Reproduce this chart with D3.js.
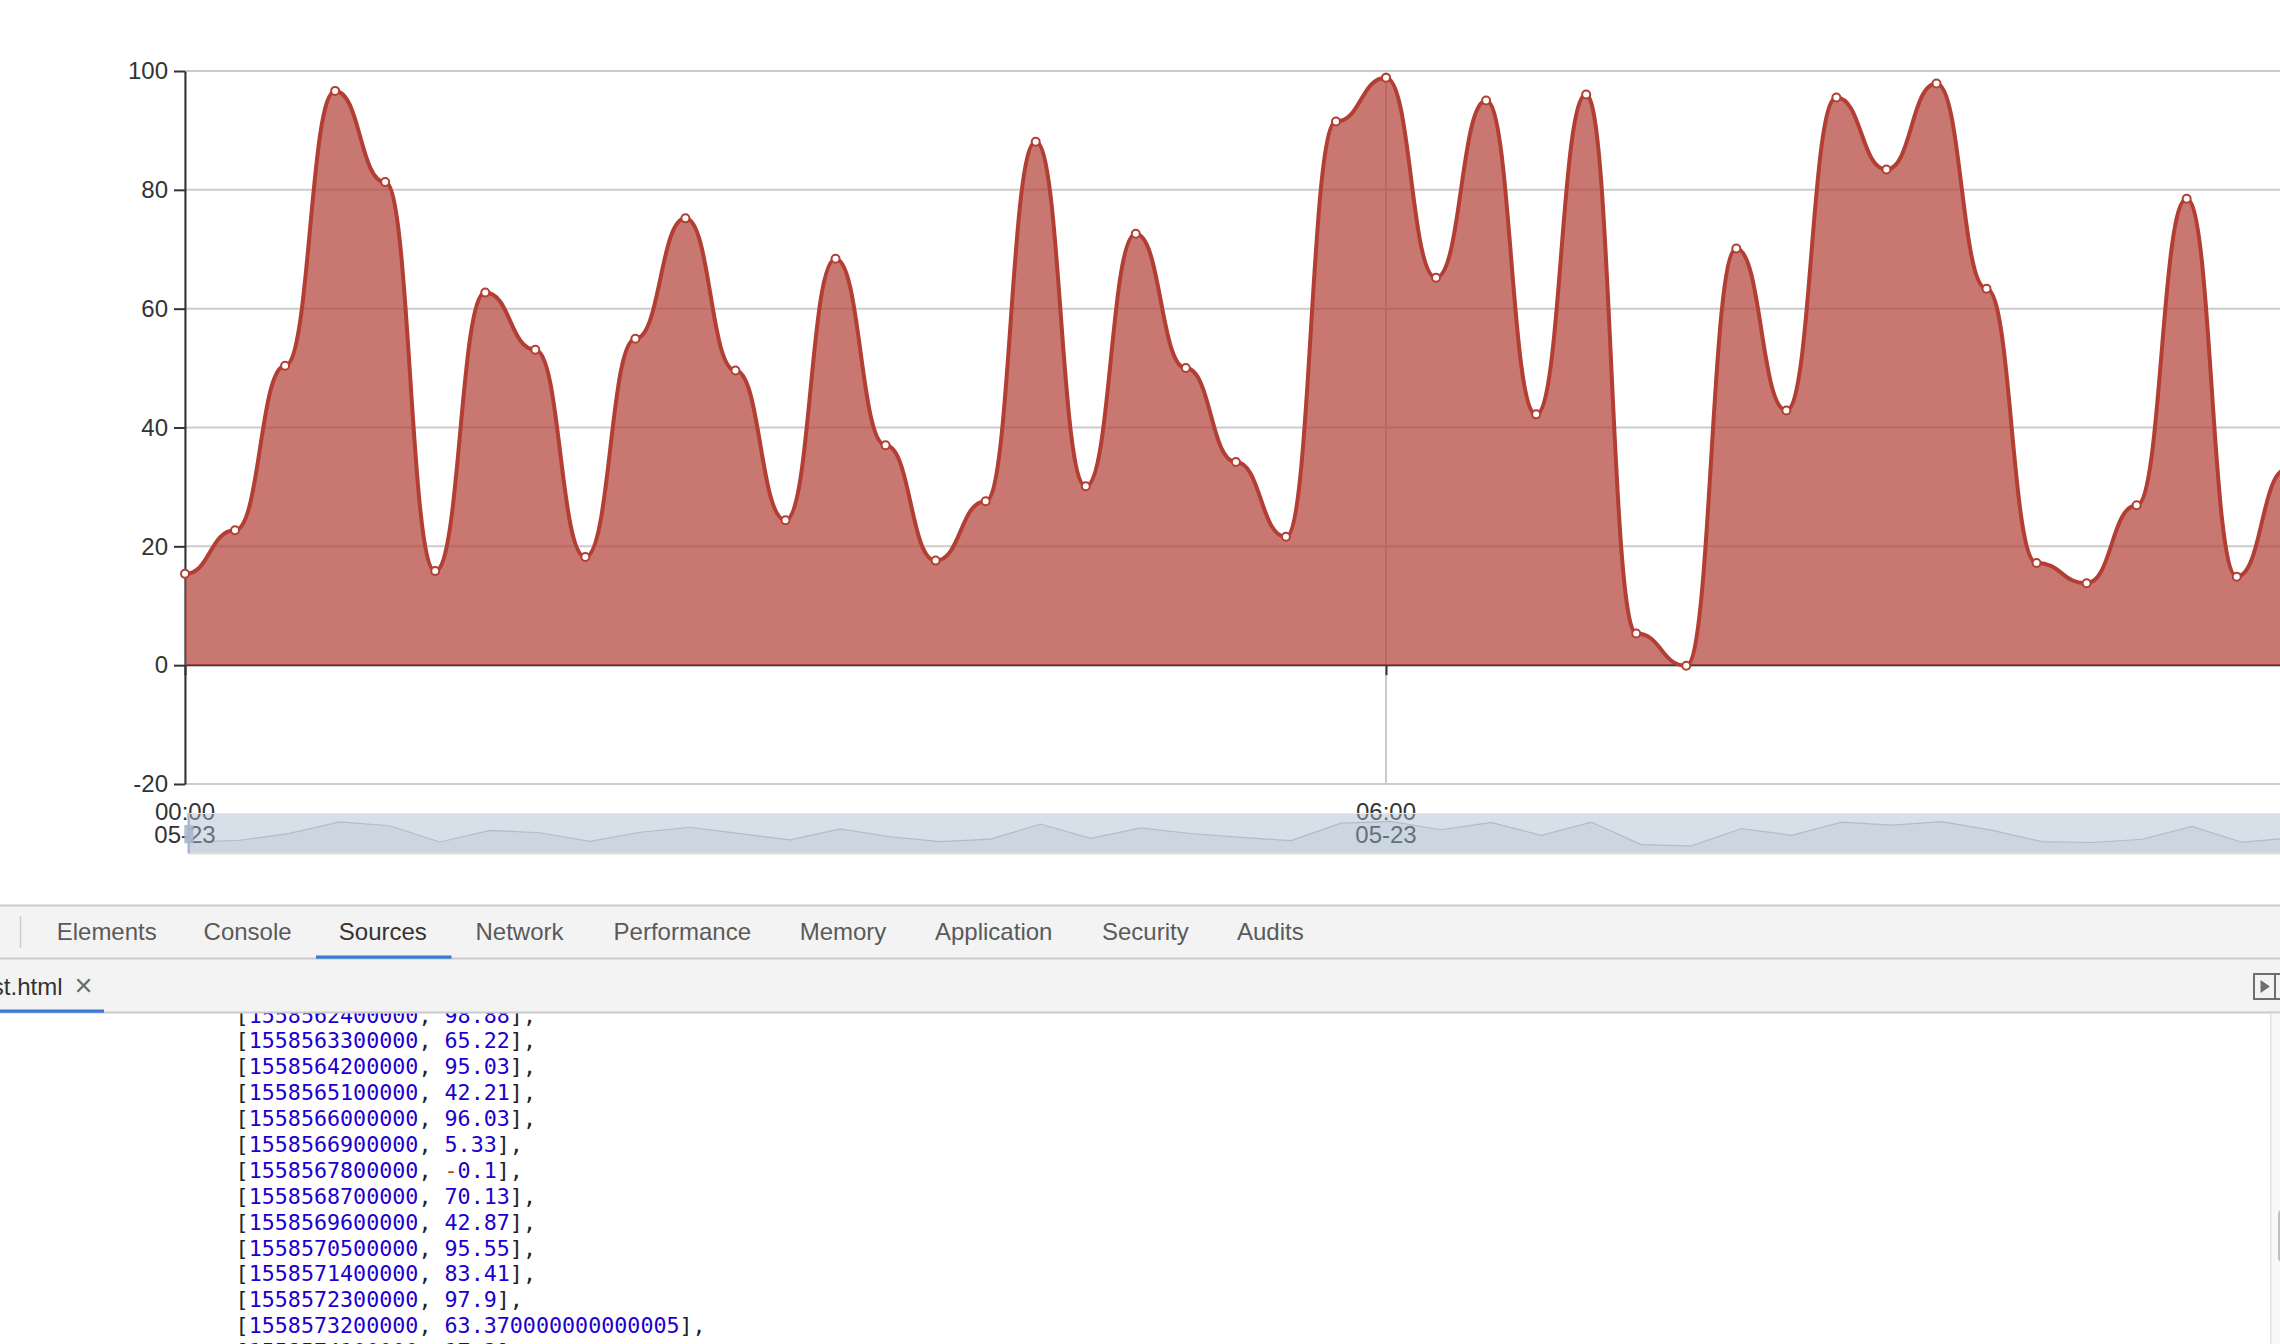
<!DOCTYPE html>
<html>
<head>
<meta charset="utf-8">
<script src="https://cdn.jsdelivr.net/npm/d3@7/dist/d3.min.js"></script>
<style>
html,body{margin:0;padding:0;background:#fff;overflow:hidden}
svg{display:block}
</style>
</head>
<body>
<svg id="c" width="2280" height="1344"></svg>
<script>
// ---------------- data ----------------
const times = [
  1558540800000, 1558541700000, 1558542600000, 1558543500000, 1558544400000,
  1558545300000, 1558546200000, 1558547100000, 1558548000000, 1558548900000,
  1558549800000, 1558550700000, 1558551600000, 1558552500000, 1558553400000,
  1558554300000, 1558555200000, 1558556100000, 1558557000000, 1558557900000,
  1558558800000, 1558559700000, 1558560600000, 1558561500000, 1558562400000,
  1558563300000, 1558564200000, 1558565100000, 1558566000000, 1558566900000,
  1558567800000, 1558568700000, 1558569600000, 1558570500000, 1558571400000,
  1558572300000, 1558573200000, 1558574100000, 1558575000000, 1558575900000,
  1558576800000, 1558577700000, 1558578600000
];
const values = [
  15.37, 22.7, 50.4, 96.65, 81.3,
  15.84, 62.7, 53.1, 18.2, 54.95,
  75.2, 49.6, 24.4, 68.4, 37.0,
  17.6, 27.6, 88.1, 30.1, 72.6,
  50.0, 34.2, 21.6, 91.5, 98.88,
  65.22, 95.03, 42.21, 96.03, 5.33,
  -0.1, 70.13, 42.87, 95.55, 83.41,
  97.9, 63.37, 17.2, 13.8, 26.9,
  78.5, 14.9, 33.0
];
const yTicks = [-20, 0, 20, 40, 60, 80, 100];
const xTickTimes = [1558540800000, 1558562400000];
const xTickLabels = [["00:00", "05-23"], ["06:00", "05-23"]];

const tabs = ["Elements", "Console", "Sources", "Network", "Performance", "Memory", "Application", "Security", "Audits"];
const activeTab = "Sources";
const fileTab = "st.html";
// source listing shown in the devtools panel (first line is cut by the panel edge)
const sourceTimes = times.slice(24, 38);
const sourceValues = ["98.88", "65.22", "95.03", "42.21", "96.03", "5.33", "-0.1", "70.13",
                      "42.87", "95.55", "83.41", "97.9", "63.370000000000005", "17.2"];

// ---------------- setup ----------------
const W = 2280, H = 1344;
const svg = d3.select("#c");
const FONT = "'Liberation Sans', Arial, Helvetica, sans-serif";
const MONO = "'DejaVu Sans Mono', 'Liberation Mono', monospace";
const LINE = "#b23e34";

const x = d3.scaleLinear().domain([xTickTimes[0], xTickTimes[1]]).range([185, 1386]);
const y = d3.scaleLinear().domain([-20, 100]).range([784, 71]);

svg.append("rect").attr("width", W).attr("height", H).attr("fill", "#fff");

// grid lines
const grid = svg.append("g");
grid.selectAll("line.h").data(yTicks).join("line")
  .attr("x1", x.range()[0]).attr("x2", W)
  .attr("y1", d => y(d)).attr("y2", d => y(d))
  .attr("stroke", "#cccccc").attr("stroke-width", 2);
grid.selectAll("line.v").data(xTickTimes).join("line")
  .attr("x1", d => x(d)).attr("x2", d => x(d))
  .attr("y1", y(100)).attr("y2", y(-20))
  .attr("stroke", "#cccccc").attr("stroke-width", 2);

// y axis
const yAxis = svg.append("g").attr("transform", `translate(${x.range()[0]},0)`)
  .call(d3.axisLeft(y).tickValues(yTicks).tickFormat(d => String(d))
        .tickSize(11).tickSizeOuter(0).tickPadding(6));
yAxis.select(".domain").attr("stroke", "#333").attr("stroke-width", 2);
yAxis.selectAll(".tick line").attr("stroke", "#333").attr("stroke-width", 2);
yAxis.selectAll(".tick text").attr("fill", "#333").style("font-family", FONT).style("font-size", "24px");

// x axis (on zero)
const xAxisG = svg.append("g").attr("transform", `translate(0,${y(0)})`)
  .call(d3.axisBottom(x).tickValues(xTickTimes).tickSize(10).tickFormat(""));
xAxisG.select(".domain").remove();
xAxisG.selectAll(".tick line").attr("stroke", "#333").attr("stroke-width", 2);
xAxisG.append("line").attr("x1", x.range()[0]).attr("x2", W).attr("y1", 0).attr("y2", 0)
  .attr("stroke", "#333").attr("stroke-width", 2);

// x labels
const xl = svg.append("g");
xTickTimes.forEach((t, i) => {
  xl.append("text").attr("x", x(t)).attr("y", 819.5).attr("text-anchor", "middle")
    .attr("fill", "#333").style("font-family", FONT).style("font-size", "24px").text(xTickLabels[i][0]);
  xl.append("text").attr("x", x(t)).attr("y", 842.5).attr("text-anchor", "middle")
    .attr("fill", "#333").style("font-family", FONT).style("font-size", "24px").text(xTickLabels[i][1]);
});

// smooth path with flat tangents at every point (control points at half the x step)
function smoothPath(pts, smooth, path) {
  path.moveTo(pts[0][0], pts[0][1]);
  for (let i = 1; i < pts.length; i++) {
    const a = pts[i - 1], b = pts[i];
    const dx = b[0] - a[0];
    path.bezierCurveTo(a[0] + dx * smooth, a[1], b[0] - dx * smooth, b[1], b[0], b[1]);
  }
  return path;
}

const pts = times.map((t, i) => [x(t), y(values[i])]);

// area
const areaP = smoothPath(pts, 0.5, d3.path());
areaP.lineTo(pts[pts.length - 1][0], y(0));
areaP.lineTo(pts[0][0], y(0));
areaP.closePath();
svg.append("path").attr("d", areaP.toString()).attr("fill", LINE).attr("fill-opacity", 0.7);

// line
svg.append("path").attr("d", smoothPath(pts, 0.5, d3.path()).toString())
  .attr("fill", "none").attr("stroke", LINE).attr("stroke-width", 4).attr("stroke-linejoin", "round");

// symbols
svg.append("g").selectAll("circle").data(pts).join("circle")
  .attr("cx", d => d[0]).attr("cy", d => d[1]).attr("r", 4)
  .attr("fill", "#fff").attr("stroke", LINE).attr("stroke-width", 2);

// ---------------- data zoom slider ----------------
const ext = d3.extent(values);
const pad = (ext[1] - ext[0]) * 0.3;
const sx = d3.scaleLinear().domain([xTickTimes[0], xTickTimes[1]]).range([189.5, 1391]);
const sy = d3.scaleLinear().domain([ext[0] - pad, ext[1] + pad]).range([853.3, 814]);
const sl = svg.append("g");
const shadowLine = d3.line().x((d, i) => sx(times[i])).y(d => sy(d));
const shadowArea = d3.area().x((d, i) => sx(times[i])).y0(853.3).y1(d => sy(d));
sl.append("path").attr("d", shadowArea(values)).attr("fill", "rgb(47,69,84)").attr("fill-opacity", 0.09);
sl.append("path").attr("d", shadowLine(values)).attr("fill", "none")
  .attr("stroke", "#2f4554").attr("stroke-opacity", 0.3).attr("stroke-width", 1.2);
sl.append("rect").attr("x", 189.5).attr("y", 814).attr("width", W - 189.5).attr("height", 39.3)
  .attr("fill", "rgb(167,183,204)").attr("fill-opacity", 0.45);
sl.append("line").attr("x1", 189.5).attr("x2", W).attr("y1", 853.5).attr("y2", 853.5)
  .attr("stroke", "#dddddd").attr("stroke-width", 2);
sl.append("line").attr("x1", 189.5).attr("x2", W).attr("y1", 813.5).attr("y2", 813.5)
  .attr("stroke", "#e4e8ee").attr("stroke-width", 1);
sl.append("line").attr("x1", 188.7).attr("x2", 188.7).attr("y1", 813).attr("y2", 853.5)
  .attr("stroke", "#a7b7cc").attr("stroke-width", 2.5);
sl.append("rect").attr("x", 184.3).attr("y", 825).attr("width", 9).attr("height", 18.3)
  .attr("fill", "#a7b7cc").attr("fill-opacity", 0.9);

// ---------------- devtools panel ----------------
const dt = svg.append("g");
dt.append("rect").attr("x", 0).attr("y", 905).attr("width", W).attr("height", 108).attr("fill", "#f3f3f3");
[905.5, 958.5, 1012.5].forEach(yy => {
  dt.append("line").attr("x1", 0).attr("x2", W).attr("y1", yy).attr("y2", yy)
    .attr("stroke", "#cccccc").attr("stroke-width", 1.8);
});
dt.append("line").attr("x1", 20.5).attr("x2", 20.5).attr("y1", 916).attr("y2", 948)
  .attr("stroke", "#cccccc").attr("stroke-width", 1.5);

const tabX = [56.7, 203.6, 338.8, 475.5, 613.6, 799.7, 935, 1102, 1237];
tabs.forEach((t, i) => {
  dt.append("text").attr("x", tabX[i]).attr("y", 940)
    .attr("fill", t === activeTab ? "#333" : "#5a5a5a")
    .style("font-family", FONT).style("font-size", "24px").text(t);
});
dt.append("rect").attr("x", 316).attr("y", 955.5).attr("width", 135.5).attr("height", 3.2).attr("fill", "#3879d9");

dt.append("text").attr("x", 62.5).attr("y", 994.5).attr("text-anchor", "end")
  .attr("fill", "#333").style("font-family", FONT).style("font-size", "24px").text(fileTab);
dt.append("text").attr("x", 83.5).attr("y", 995.5).attr("text-anchor", "middle")
  .attr("fill", "#6a6a6a").style("font-family", FONT).style("font-size", "31px").text("×");
dt.append("rect").attr("x", 0).attr("y", 1009.5).attr("width", 104).attr("height", 3.2).attr("fill", "#3879d9");

// run-snippet icon
dt.append("rect").attr("x", 2254).attr("y", 974).attr("width", 21).attr("height", 25)
  .attr("fill", "none").attr("stroke", "#6e6e6e").attr("stroke-width", 2);
dt.append("rect").attr("x", 2275).attr("y", 974).attr("width", 10).attr("height", 25)
  .attr("fill", "none").attr("stroke", "#6e6e6e").attr("stroke-width", 2);
dt.append("path").attr("d", "M2260.5,980 L2270,986.5 L2260.5,993 Z").attr("fill", "#6e6e6e");

// code listing
svg.append("clipPath").attr("id", "codeClip").append("rect")
  .attr("x", 0).attr("y", 1013.6).attr("width", W).attr("height", H - 1013.6);
const code = svg.append("g").attr("clip-path", "url(#codeClip)");
sourceTimes.forEach((t, k) => {
  const tx = code.append("text").attr("x", 235.6).attr("y", 1022.6 + 25.88 * k)
    .style("font-family", MONO).style("font-size", "21.7px").attr("xml:space", "preserve");
  tx.append("tspan").attr("fill", "#222").text("[");
  tx.append("tspan").attr("fill", "#1c00cf").text(String(t));
  tx.append("tspan").attr("fill", "#222").text(", ");
  const v = sourceValues[k];
  if (v.startsWith("-")) {
    tx.append("tspan").attr("fill", "#a0501a").text("-");
    tx.append("tspan").attr("fill", "#1c00cf").text(v.slice(1));
  } else {
    tx.append("tspan").attr("fill", "#1c00cf").text(v);
  }
  tx.append("tspan").attr("fill", "#222").text("],");
});

// scrollbar at right edge
dt.append("rect").attr("x", 2271).attr("y", 1013.6).attr("width", 9).attr("height", H - 1013.6).attr("fill", "#f8f8f8");
dt.append("line").attr("x1", 2270.8).attr("x2", 2270.8).attr("y1", 1013.6).attr("y2", H)
  .attr("stroke", "#e2e2e2").attr("stroke-width", 1.5);
dt.append("rect").attr("x", 2278).attr("y", 1210).attr("width", 8).attr("height", 52).attr("rx", 4)
  .attr("fill", "#c1c1c1");
</script>
</body>
</html>
